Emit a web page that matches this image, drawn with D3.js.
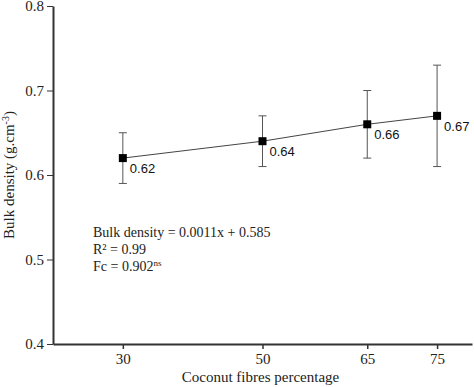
<!DOCTYPE html>
<html>
<head>
<meta charset="utf-8">
<script src="https://cdn.jsdelivr.net/npm/d3@7"></script>
<style>
  body { margin: 0; background: #fff; }
  svg { display: block; }
  .axis text { font-family: "Liberation Serif", "Times New Roman", serif; font-size: 15px; fill: #222; }
  .axis path, .axis line { stroke: #333; }
</style>
</head>
<body>
<div id="chart"></div>
<script>
// data
var fibres = [30, 50, 65, 75];
var density = [0.62, 0.64, 0.66, 0.67];
var errTop = [0.65, 0.67, 0.70, 0.73];
var errBottom = [0.59, 0.61, 0.62, 0.61];
var yTicks = [0.4, 0.5, 0.6, 0.7, 0.8];

var W = 474, H = 387;
var margin = {top: 6, right: 2, bottom: 43, left: 53},
    width = W - margin.left - margin.right,
    height = H - margin.top - margin.bottom;

var x = d3.scaleLinear().domain([20, 80]).range([0, width]);
var y = d3.scaleLinear().domain([0.4, 0.8]).range([height, 0]);

var svg = d3.select("#chart").append("svg")
    .attr("width", W)
    .attr("height", H)
  .append("g")
    .attr("transform", "translate(" + margin.left + "," + margin.top + ")");

var pts = fibres.map(function(f, i) {
  return {x: f, y: density[i], hi: errTop[i], lo: errBottom[i]};
});

// axes
var yAxis = svg.append("g")
    .attr("class", "axis")
    .call(d3.axisLeft(y).tickValues(yTicks).tickFormat(d3.format(".1f")).tickSize(6).tickSizeOuter(0).tickPadding(3));
yAxis.select(".domain").attr("stroke-width", 2);

var xAxis = svg.append("g")
    .attr("class", "axis")
    .attr("transform", "translate(0," + height + ")")
    .call(d3.axisBottom(x).tickValues(fibres).tickSize(5).tickSizeOuter(0).tickPadding(4));
xAxis.select(".domain").attr("stroke-width", 2);
xAxis.selectAll(".tick line").attr("stroke-width", 1.5);

// error bars
var eb = svg.append("g").attr("stroke", "#555").attr("stroke-width", 1);
pts.forEach(function(d) {
  eb.append("line").attr("x1", x(d.x)).attr("x2", x(d.x)).attr("y1", y(d.hi)).attr("y2", y(d.lo));
  eb.append("line").attr("x1", x(d.x) - 4).attr("x2", x(d.x) + 4).attr("y1", y(d.hi)).attr("y2", y(d.hi));
  eb.append("line").attr("x1", x(d.x) - 4).attr("x2", x(d.x) + 4).attr("y1", y(d.lo)).attr("y2", y(d.lo));
});

// trend line
var line = d3.line()
    .x(function(d) { return x(d.x); })
    .y(function(d) { return y(d.y); });
svg.append("path")
    .datum(pts)
    .attr("fill", "none")
    .attr("stroke", "#444")
    .attr("stroke-width", 1)
    .attr("d", line);

// markers
svg.selectAll("rect.pt")
    .data(pts)
  .enter().append("rect")
    .attr("class", "pt")
    .attr("x", function(d) { return x(d.x) - 4; })
    .attr("y", function(d) { return y(d.y) - 4; })
    .attr("width", 8)
    .attr("height", 8)
    .attr("fill", "#000");

// value labels
svg.selectAll("text.val")
    .data(pts)
  .enter().append("text")
    .attr("class", "val")
    .attr("x", function(d) { return x(d.x) + 7; })
    .attr("y", function(d) { return y(d.y) + 15; })
    .style("font-family", "'Liberation Sans', Arial, sans-serif")
    .style("font-size", "13px")
    .attr("fill", "#111")
    .text(function(d) { return d.y.toFixed(2); });

// equation text
var serif = "'Liberation Serif', 'Times New Roman', serif";
var eq = svg.append("g")
    .style("font-family", serif)
    .style("font-size", "14px")
    .attr("fill", "#222");
eq.append("text").attr("x", 40).attr("y", 231).text("Bulk density = 0.0011x + 0.585");
eq.append("text").attr("x", 40).attr("y", 248).text("R² = 0.99");
var fc = eq.append("text").attr("x", 40).attr("y", 265);
fc.append("tspan").text("Fc = 0.902");
fc.append("tspan").attr("dy", -5).style("font-size", "9px").text("ns");

// axis titles
svg.append("text")
    .attr("x", width * 0.5 - 2)
    .attr("y", height + 38)
    .attr("text-anchor", "middle")
    .style("font-family", serif)
    .style("font-size", "15px")
    .attr("fill", "#222")
    .text("Coconut fibres percentage");

var yt = svg.append("text")
    .attr("transform", "translate(" + (-39) + "," + (y(0.6)) + ") rotate(-90)")
    .attr("text-anchor", "middle")
    .style("font-family", serif)
    .style("font-size", "15px")
    .attr("fill", "#222");
yt.append("tspan").text("Bulk density (g.cm");
yt.append("tspan").attr("dy", -5).style("font-size", "10px").text("-3");
yt.append("tspan").attr("dy", 5).text(")");
</script>
</body>
</html>
